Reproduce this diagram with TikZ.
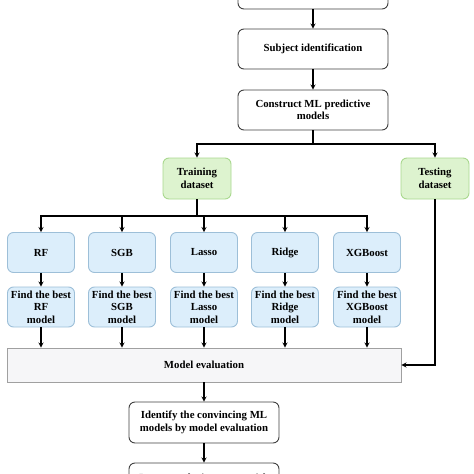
\documentclass[tikz,border=0pt]{standalone}
\usepackage{fontspec}
\setmainfont{Liberation Serif}
\usetikzlibrary{arrows}
\usetikzlibrary{positioning,calc}
\definecolor{trainFill}{HTML}{DDF3CF}
\definecolor{trainLine}{HTML}{A9D88E}
\definecolor{modelFill}{HTML}{DCEEFB}
\definecolor{modelLine}{HTML}{9DBFD8}
\definecolor{evalFill}{HTML}{F6F6F8}
\definecolor{evalLine}{HTML}{A0A0A0}
\tikzset{step box/.style={rectangle,rounded corners=6pt,draw=black!75,line width=0.9pt,fill=white,
			minimum width=150pt,minimum height=40pt,inner sep=2pt},
		dataBox/.style={step box,draw=trainLine,fill=trainFill,minimum width=68pt,minimum height=41pt},
		modelBox/.style={step box,draw=modelLine,fill=modelFill,minimum width=67pt,minimum height=40pt},
		evalBox/.style={rectangle,draw=evalLine,fill=evalFill,line width=0.9pt,
			minimum width=394pt,minimum height=34pt},
		Dedge/.style={-stealth,line width=1.2pt},
		Pedge/.style={line width=1.2pt},
		every node/.style={align=center}}

\begin{document}
\begin{tikzpicture}[x=1pt,y=-1pt,font=\fontsize{10.8}{12.5}\selectfont\bfseries]
		\clip (0,0) rectangle (474,474);
       		\node at (313,-11) [step box] (top){};
       		\node at (313,49) [step box] (subj){Subject identification};
       		\node at (313,110) [step box] (cons){Construct ML predictive\\models};
       		\node at (197,178.5) [dataBox] (train){Training\\dataset};
       		\node at (435,178.5) [dataBox] (test){Testing\\dataset};
		%models
       		\node at (41,252.5) [modelBox] (rf){RF};
       		\node at (122,252.5) [modelBox] (sgb){SGB};
       		\node at (204,252.5) [modelBox] (lasso){Lasso};
       		\node at (285,252.5) [modelBox] (ridge){Ridge};
       		\node at (367,252.5) [modelBox] (xgb){XGBoost};
       		\node at (41,307) [modelBox] (bestRF){Find the best\\RF\\model};
       		\node at (122,307) [modelBox] (bestSGB){Find the best\\SGB\\model};
       		\node at (204,307) [modelBox] (bestLasso){Find the best\\Lasso\\model};
       		\node at (285,307) [modelBox] (bestRidge){Find the best\\Ridge\\model};
       		\node at (367,307) [modelBox] (bestXGB){Find the best\\XGBoost\\model};
		%evaluation
       		\node at (204,365) [evalBox] (eval){Model evaluation};
       		\node at (204,422.5) [step box,minimum height=41pt] (ident){Identify the convincing ML\\models by model evaluation};
       		\node at (204,483.5) [step box,minimum height=41pt] (integ){Integrate the important risk\\~};
		\coordinate (split) at (313,144);
		\coordinate (splitM) at (197,216);

       		\draw (top) edge[Dedge] (subj);
       		\draw (subj) edge[Dedge] (cons);
		\draw[Pedge] (cons) -- (split);
		\draw[Dedge] (split) -| (train);
		\draw[Dedge] (split) -| (test);
		\draw[Pedge] (train) -- (splitM);
		\foreach \m in {rf,sgb,lasso,ridge,xgb}
			\draw[Dedge] (splitM) -| (\m);
		\draw (rf) edge[Dedge] (bestRF);
		\draw (sgb) edge[Dedge] (bestSGB);
		\draw (lasso) edge[Dedge] (bestLasso);
		\draw (ridge) edge[Dedge] (bestRidge);
		\draw (xgb) edge[Dedge] (bestXGB);
		\foreach \b in {bestRF,bestSGB,bestLasso,bestRidge,bestXGB}
			\draw[Dedge] (\b) -- (\b |- eval.north);
		\draw[Dedge] (test) |- (eval);
       		\draw (eval) edge[Dedge] (ident);
       		\draw (ident) edge[Dedge] (integ);
       	\end{tikzpicture}
\end{document}
